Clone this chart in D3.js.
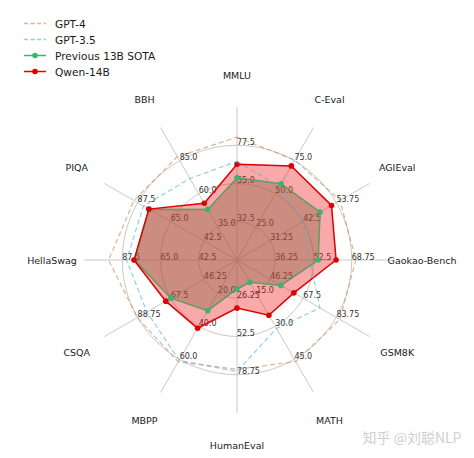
<!DOCTYPE html>
<html>
<head>
<meta charset="utf-8">
<script src="https://cdn.jsdelivr.net/npm/d3@7"></script>
<style>
  html, body { margin: 0; padding: 0; background: #fff; }
  svg { display: block; font-family: "DejaVu Sans", sans-serif; }
</style>
</head>
<body>
<div id="chart"></div>
<script>
// axes, clockwise from the top
var categories = ["MMLU", "C-Eval", "AGIEval", "Gaokao-Bench", "GSM8K", "MATH",
                  "HumanEval", "MBPP", "CSQA", "HellaSwag", "PIQA", "BBH"]

// value at the centre and value at the third ring, per axis
var axisMin = [10, 0, 20, 20, 25, 0, 0, 0, 25, 20, 20, 10]
var axisTop = [77.5, 75, 53.75, 68.75, 88.75, 45, 78.75, 60, 88.75, 87.5, 87.5, 85]

// ring labels as printed on each axis
var tickLabels = [
    ["32.5", "55.0", "77.5"],
    ["25.0", "50.0", "75.0"],
    ["31.25", "42.5", "53.75"],
    ["36.25", "52.5", "68.75"],
    ["46.25", "67.5", "83.75"],
    ["15.0", "30.0", "45.0"],
    ["26.25", "52.5", "78.75"],
    ["20.0", "40.0", "60.0"],
    ["46.25", "67.5", "88.75"],
    ["42.5", "65.0", "87.5"],
    ["42.5", "65.0", "87.5"],
    ["35.0", "60.0", "85.0"]
]

var gpt4     = [82.2, 75.5, 55.0, 70.5, 91.0, 46.0, 75.0, 61.5, 89.0, 95.5, 90.0, 88.0]
var gpt35    = [68.0, 55.5, 42.5, 51.0, 78.2, 31.0, 76.5, 60.5, 82.8, 85.0, 83.5, 71.5]
var prevSota = [58.4, 57.6, 48.2, 54.5, 53.2, 10.1, 19.9, 30.6, 67.4, 80.3, 79.7, 48.2]
var qwen14b  = [66.3, 71.0, 52.1, 62.1, 61.5, 25.0, 33.0, 41.2, 70.7, 80.6, 79.9, 52.8]

var seriesNames = ["GPT-4", "GPT-3.5", "Previous 13B SOTA", "Qwen-14B"]

var width = 474, height = 458
var cx = 237, cy = 260
var ringStep = 38.25
var nRings = 3
var spokeLen = 153
var labelR = 185

var svg = d3.select("#chart")
    .append("svg")
    .attr("width", width)
    .attr("height", height)

var angle = d3.scaleLinear()
    .domain([0, categories.length])
    .range([0, 2 * Math.PI])

var radius = categories.map((c, i) => d3.scaleLinear()
    .domain([axisMin[i], axisTop[i]])
    .range([0, ringStep * nRings]))

function pt(i, r) {
    var a = angle(i)
    return [cx + r * Math.sin(a), cy - r * Math.cos(a)]
}

var g = svg.append("g")

// rings
g.selectAll("circle.ring")
    .data(d3.range(1, nRings + 1))
    .enter()
    .append("circle")
    .attr("cx", cx)
    .attr("cy", cy)
    .attr("r", d => d * ringStep)
    .style("fill", "none")
    .style("stroke", "#c9c9c9")
    .style("stroke-width", 1)

// spokes
g.selectAll("line.spoke")
    .data(categories)
    .enter()
    .append("line")
    .attr("x1", cx)
    .attr("y1", cy)
    .attr("x2", (d, i) => pt(i, spokeLen)[0])
    .attr("y2", (d, i) => pt(i, spokeLen)[1])
    .style("stroke", "#c9c9c9")
    .style("stroke-width", 1)

// ring labels on every axis
categories.forEach((c, i) => {
    tickLabels[i].forEach((t, k) => {
        var v = axisMin[i] + (k + 1) * (axisTop[i] - axisMin[i]) / nRings
        var p = pt(i, radius[i](v))
        g.append("text")
            .attr("x", p[0])
            .attr("y", p[1] - 0.5)
            .attr("text-anchor", "start")
            .style("font-size", "8px")
            .style("fill", "#333")
            .text(t)
    })
})

// axis names
g.selectAll("text.cat")
    .data(categories)
    .enter()
    .append("text")
    .attr("x", (d, i) => pt(i, labelR)[0])
    .attr("y", (d, i) => pt(i, labelR)[1])
    .attr("text-anchor", "middle")
    .attr("dominant-baseline", "central")
    .style("font-size", "9.5px")
    .style("fill", "#1a1a1a")
    .text(d => d)

var line = d3.lineRadial()
    .angle((d, i) => angle(i))
    .radius((d, i) => radius[i](d))
    .curve(d3.curveLinearClosed)

var plot = svg.append("g").attr("transform", "translate(" + cx + "," + cy + ")")

function dots(values, color) {
    plot.selectAll(null)
        .data(values)
        .enter()
        .append("circle")
        .attr("cx", (d, i) => pt(i, radius[i](d))[0] - cx)
        .attr("cy", (d, i) => pt(i, radius[i](d))[1] - cy)
        .attr("r", 2.8)
        .style("fill", color)
}

// fills first
plot.append("path")
    .attr("d", line(prevSota))
    .style("fill", "#4a8f5a")
    .style("fill-opacity", 0.4)

plot.append("path")
    .attr("d", line(qwen14b))
    .style("fill", "#ee1c1c")
    .style("fill-opacity", 0.38)

// previous 13B SOTA line sits under a tint, dots stay green
plot.append("path")
    .attr("d", line(prevSota))
    .style("fill", "none")
    .style("stroke", "#5c9c66")
    .style("stroke-width", 1.5)
dots(prevSota, "#3cb371")

// Qwen-14B
plot.append("path")
    .attr("d", line(qwen14b))
    .style("fill", "none")
    .style("stroke", "#dd0000")
    .style("stroke-width", 1.5)
dots(qwen14b, "#e00000")

// GPT references, dashed
plot.append("path")
    .attr("d", line(gpt4))
    .style("fill", "none")
    .style("stroke", "#c8834f")
    .style("stroke-opacity", 0.6)
    .style("stroke-width", 1.2)
    .style("stroke-dasharray", "5,3")

plot.append("path")
    .attr("d", line(gpt35))
    .style("fill", "none")
    .style("stroke", "#4ab0d0")
    .style("stroke-opacity", 0.6)
    .style("stroke-width", 1.2)
    .style("stroke-dasharray", "5,3")

// legend
var legendStyle = [
    { color: "#c8834f", opacity: 0.6, dash: "4,2.5", dot: false },
    { color: "#4ab0d0", opacity: 0.6, dash: "4,2.5", dot: false },
    { color: "#3cb371", opacity: 1, dash: null, dot: true },
    { color: "#e00000", opacity: 1, dash: null, dot: true }
]

var legend = svg.append("g")
seriesNames.forEach((name, i) => {
    var y = 23.5 + i * 16
    var s = legendStyle[i]
    legend.append("line")
        .attr("x1", 24).attr("x2", 46)
        .attr("y1", y).attr("y2", y)
        .style("stroke", s.color)
        .style("stroke-opacity", s.opacity)
        .style("stroke-width", 1.5)
        .style("stroke-dasharray", s.dash)
    if (s.dot) {
        legend.append("circle")
            .attr("cx", 35).attr("cy", y).attr("r", 2.8)
            .style("fill", s.color)
    }
    legend.append("text")
        .attr("x", 55)
        .attr("y", y)
        .attr("dominant-baseline", "central")
        .style("font-size", "10.6px")
        .style("fill", "#1a1a1a")
        .text(name)
})

// watermark
svg.append("text")
    .attr("x", 412)
    .attr("y", 437)
    .attr("text-anchor", "middle")
    .attr("dominant-baseline", "central")
    .style("font-family", "'Noto Sans CJK SC', sans-serif")
    .style("font-size", "14px")
    .style("fill", "#cfcfcf")
    .text("知乎 @刘聪NLP")
</script>
</body>
</html>
